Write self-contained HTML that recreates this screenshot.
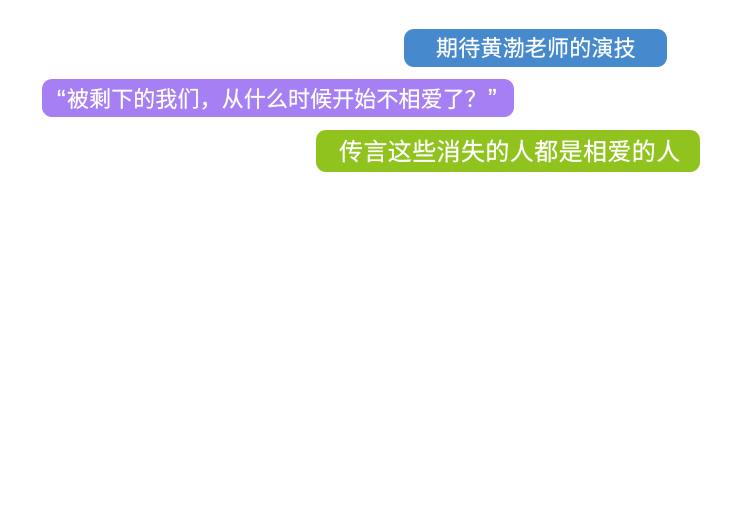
<!DOCTYPE html>
<html lang="zh">
<head>
<meta charset="utf-8">
<style>
html,body{margin:0;padding:0;background:#fff;}
body{width:750px;height:513px;position:relative;overflow:hidden;font-family:"Liberation Sans","Noto Sans CJK SC",sans-serif;color:#fff;}
.b{position:absolute;border-radius:10px;}
.t{position:absolute;white-space:nowrap;-webkit-text-stroke:0.2px #fff;}
</style>
</head>
<body>
<div class="b" style="left:404px;top:29px;width:263px;height:38px;background:#4689cc;"></div>
<div class="t" style="left:436px;top:33px;font-size:22px;line-height:32px;letter-spacing:0.2px;">期待黄渤老师的演技</div>
<div class="b" style="left:42px;top:79px;width:472px;height:38px;background:#a57ff3;"></div>
<div class="t" style="left:57px;top:83px;font-size:26px;line-height:32px;">“</div>
<div class="t" style="left:67px;top:82px;font-size:22px;line-height:32px;letter-spacing:0.1px;font-family:'Noto Sans CJK SC',sans-serif;">被剩下的我们&#xFF0C;从什么时候开始不相爱了&#xFF1F;</div>
<div class="t" style="left:488px;top:82px;font-size:26px;line-height:32px;">”</div>
<div class="b" style="left:316px;top:130px;width:384px;height:42px;background:#90c31d;"></div>
<div class="t" style="left:339px;top:136px;font-size:24px;line-height:34px;letter-spacing:0.4px;">传言这些消失的人都是相爱的人</div>
</body>
</html>
